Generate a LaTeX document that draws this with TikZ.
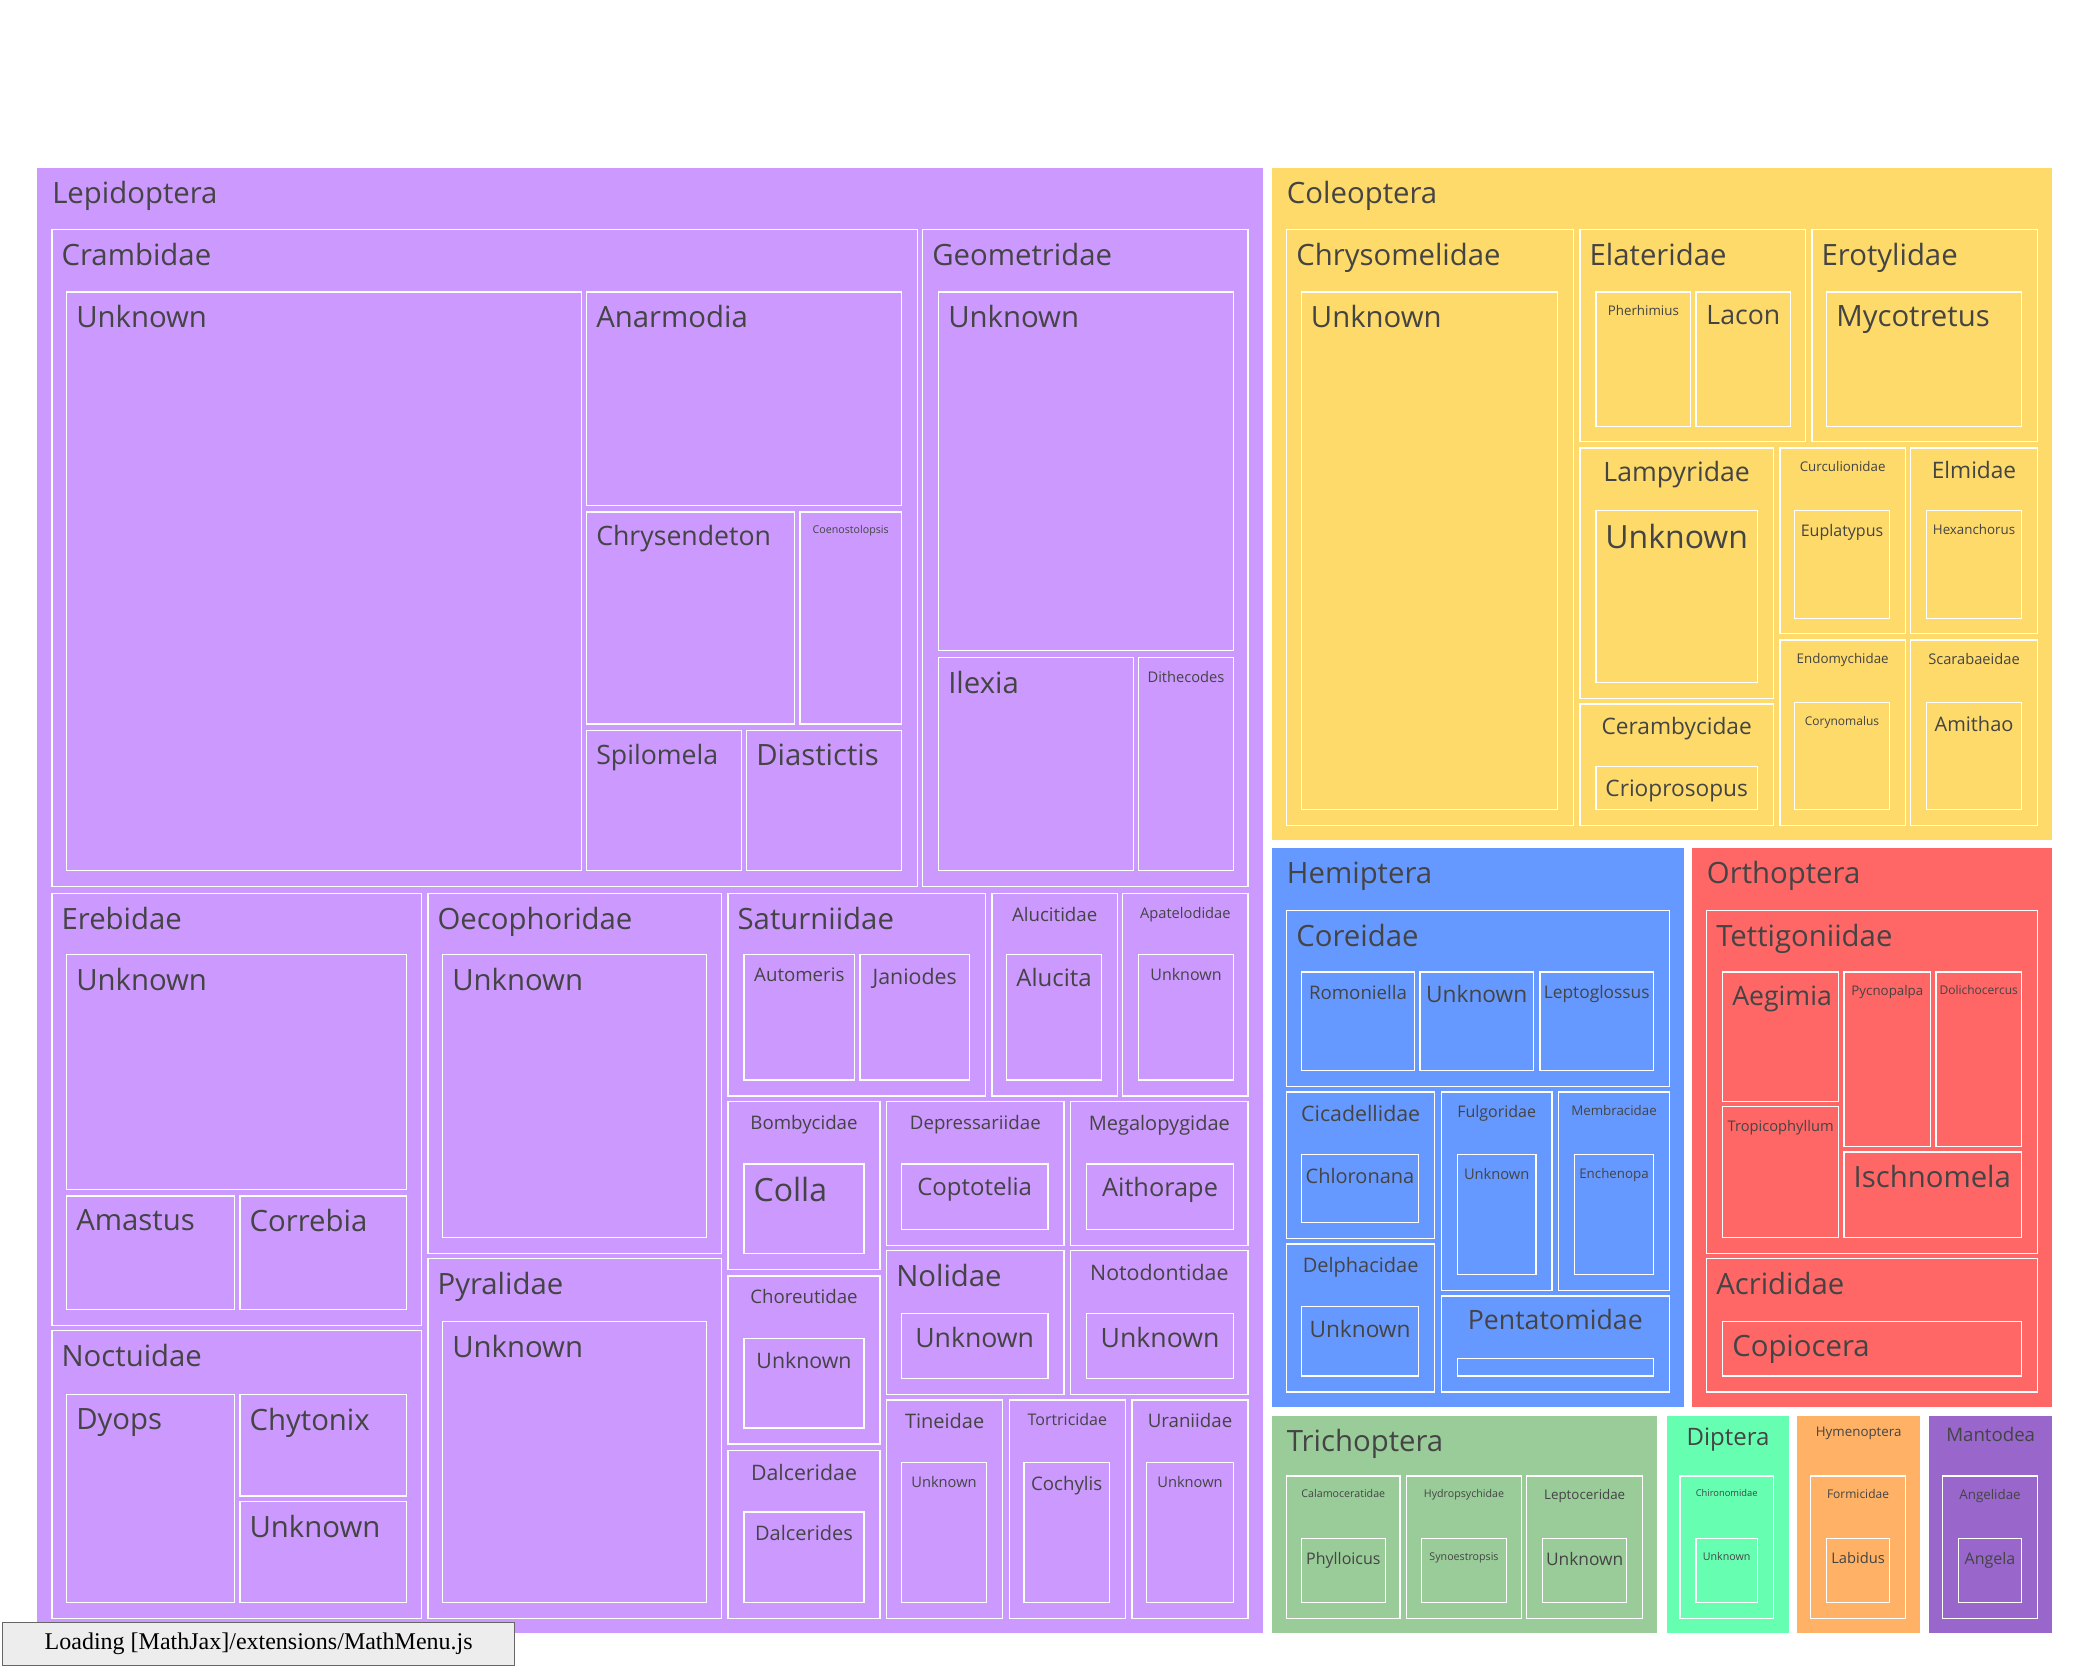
\documentclass[tikz,border=0pt]{standalone}
\usepackage{fontspec}
\setmainfont{Open Sans}
\definecolor{lepi}{HTML}{CC99FF}
\definecolor{cole}{HTML}{FDDA6A}
\definecolor{hemi}{HTML}{6699FF}
\definecolor{orth}{HTML}{FF6666}
\definecolor{tric}{HTML}{99CC99}
\definecolor{dipt}{HTML}{66FFB2}
\definecolor{hyme}{HTML}{FFB266}
\definecolor{mant}{HTML}{9966CC}
\definecolor{txt}{HTML}{444444}
\tikzset{
  tile/.style={draw=white, line width=1.2bp},
  lab/.style={text=txt, inner sep=0pt}
}
% left-aligned and centred tile labels
\newcommand{\tmL}[8]{%
  \draw[tile, fill=\curfill] (#2,#3) rectangle (#4,#5);
  \node[lab, anchor=north west, font=\fontsize{#6bp}{#6bp}\selectfont] (#1) at (#2+7,#3+10) {#8};}
\newcommand{\tmC}[8]{%
  \draw[tile, fill=\curfill] (#2,#3) rectangle (#4,#5);
  \node[lab, anchor=north, font=\fontsize{#6bp}{#6bp}\selectfont] (#1) at ({(#2+#4)/2},#3+10) {#8};}
\begin{document}
\begin{tikzpicture}[x=1bp, y=-1bp]
  \useasboundingbox[fill=white] (0,0) rectangle (1563,1250);

  % Lepidoptera
  \def\curfill{lepi}
  \fill[lepi] (28,126) rectangle (947,1225);
  \node[lab, anchor=north west, font=\fontsize{22bp}{22bp}\selectfont] (lepi) at (39,136) {Lepidoptera};
  \tmL{cram}{39}{172}{688}{665}{22}{}{Crambidae}
  \tmL{cramU}{50}{219}{436}{653}{22}{}{Unknown}
  \tmL{anar}{440}{219}{676}{379}{22}{}{Anarmodia}
  \tmL{chrys}{440}{384}{596}{543}{20}{}{Chrysendeton}
  \tmC{coen}{600}{384}{676}{543}{8}{}{Coenostolopsis}
  \tmL{spil}{440}{548}{556}{653}{20}{}{Spilomela}
  \tmL{dias}{560}{548}{676}{653}{22}{}{Diastictis}
  \tmL{geom}{692}{172}{936}{665}{22}{}{Geometridae}
  \tmL{geomU}{704}{219}{925}{488}{22}{}{Unknown}
  \tmL{ilex}{704}{493}{850}{653}{22}{}{Ilexia}
  \tmC{dith}{854}{493}{925}{653}{11}{}{Dithecodes}
  \tmL{ereb}{39}{670}{316}{994}{22}{}{Erebidae}
  \tmL{erebU}{50}{716}{305}{892}{22}{}{Unknown}
  \tmL{amas}{50}{897}{176}{982}{22}{}{Amastus}
  \tmL{corr}{180}{897}{305}{982}{22}{}{Correbia}
  \tmL{noct}{39}{998}{316}{1214}{22}{}{Noctuidae}
  \tmL{dyop}{50}{1046}{176}{1202}{22}{}{Dyops}
  \tmL{chyt}{180}{1046}{305}{1122}{22}{}{Chytonix}
  \tmL{noctU}{180}{1126}{305}{1202}{22}{}{Unknown}
  \tmL{oeco}{321}{670}{541}{940}{22}{}{Oecophoridae}
  \tmL{oecoU}{332}{716}{530}{928}{22}{}{Unknown}
  \tmL{pyra}{321}{944}{541}{1214}{22}{}{Pyralidae}
  \tmL{pyraU}{332}{991}{530}{1202}{22}{}{Unknown}
  \tmL{satu}{546}{670}{739}{822}{22}{}{Saturniidae}
  \tmC{auto}{558}{716}{641}{810}{14}{}{Automeris}
  \tmC{jani}{645}{716}{727}{810}{16}{}{Janiodes}
  \tmC{aluc}{744}{670}{838}{822}{14}{}{Alucitidae}
  \tmC{alucA}{755}{716}{826}{810}{18}{}{Alucita}
  \tmC{apat}{842}{670}{936}{822}{11}{}{Apatelodidae}
  \tmC{apatU}{854}{716}{925}{810}{12}{}{Unknown}
  \tmC{bomb}{546}{826}{660}{952}{14}{}{Bombycidae}
  \tmL{coll}{558}{873}{648}{940}{24}{}{Colla}
  \tmC{depr}{665}{826}{798}{934}{14}{}{Depressariidae}
  \tmC{copt}{676}{873}{786}{922}{18}{}{Coptotelia}
  \tmC{mega}{803}{826}{936}{934}{15}{}{Megalopygidae}
  \tmC{aith}{815}{873}{925}{922}{19}{}{Aithorape}
  \tmC{chor}{546}{957}{660}{1083}{14}{}{Choreutidae}
  \tmC{chorU}{558}{1004}{648}{1071}{16}{}{Unknown}
  \tmC{dalc}{546}{1088}{660}{1214}{16}{}{Dalceridae}
  \tmC{dalcD}{558}{1134}{648}{1202}{15}{}{Dalcerides}
  \tmL{noli}{665}{938}{798}{1046}{22}{}{Nolidae}
  \tmC{noliU}{676}{985}{786}{1034}{20}{}{Unknown}
  \tmC{noto}{803}{938}{936}{1046}{16}{}{Notodontidae}
  \tmC{notoU}{815}{985}{925}{1034}{20}{}{Unknown}
  \tmC{tine}{665}{1050}{752}{1214}{15}{}{Tineidae}
  \tmC{tineU}{676}{1097}{740}{1202}{11}{}{Unknown}
  \tmC{tort}{757}{1050}{844}{1214}{12}{}{Tortricidae}
  \tmC{coch}{768}{1097}{832}{1202}{14}{}{Cochylis}
  \tmC{uran}{849}{1050}{936}{1214}{14}{}{Uraniidae}
  \tmC{uranU}{860}{1097}{925}{1202}{11}{}{Unknown}

  % Coleoptera
  \def\curfill{cole}
  \fill[cole] (954,126) rectangle (1539,630);
  \node[lab, anchor=north west, font=\fontsize{22bp}{22bp}\selectfont] (cole) at (965,136) {Coleoptera};
  \tmL{chmel}{965}{172}{1180}{619}{22}{}{Chrysomelidae}
  \tmL{chmelU}{976}{219}{1168}{607}{22}{}{Unknown}
  \tmL{elat}{1185}{172}{1354}{331}{22}{}{Elateridae}
  \tmC{pher}{1197}{219}{1268}{320}{10}{}{Pherhimius}
  \tmC{laco}{1272}{219}{1343}{320}{20}{}{Lacon}
  \tmL{erot}{1359}{172}{1528}{331}{22}{}{Erotylidae}
  \tmL{myco}{1370}{219}{1516}{320}{22}{}{Mycotretus}
  \tmC{lamp}{1185}{336}{1330}{524}{20}{}{Lampyridae}
  \tmC{lampU}{1197}{383}{1318}{512}{24}{}{Unknown}
  \tmC{cera}{1185}{528}{1330}{619}{17}{}{Cerambycidae}
  \tmC{crio}{1197}{575}{1318}{607}{17}{}{Crioprosopus}
  \tmC{curc}{1335}{336}{1429}{475}{10}{}{Curculionidae}
  \tmC{eupl}{1346}{383}{1417}{464}{12}{}{Euplatypus}
  \tmC{elmi}{1433}{336}{1528}{475}{17}{}{Elmidae}
  \tmC{hexa}{1445}{383}{1516}{464}{10}{}{Hexanchorus}
  \tmC{endo}{1335}{480}{1429}{619}{10}{}{Endomychidae}
  \tmC{cory}{1346}{527}{1417}{607}{9}{}{Corynomalus}
  \tmC{scar}{1433}{480}{1528}{619}{11}{}{Scarabaeidae}
  \tmC{amit}{1445}{527}{1516}{607}{15}{}{Amithao}

  % Hemiptera
  \def\curfill{hemi}
  \fill[hemi] (954,636) rectangle (1263,1055);
  \node[lab, anchor=north west, font=\fontsize{22bp}{22bp}\selectfont] (hemi) at (965,646) {Hemiptera};
  \tmL{core}{965}{683}{1252}{815}{22}{}{Coreidae}
  \tmC{romo}{976}{729}{1061}{803}{14}{}{Romoniella}
  \tmC{coreU}{1065}{729}{1150}{803}{17}{}{Unknown}
  \tmC{lept}{1155}{729}{1240}{803}{13}{}{Leptoglossus}
  \tmC{cica}{965}{819}{1076}{929}{16}{}{Cicadellidae}
  \tmC{chlo}{976}{866}{1064}{917}{15}{}{Chloronana}
  \tmC{delp}{965}{933}{1076}{1044}{15}{}{Delphacidae}
  \tmC{delpU}{976}{980}{1064}{1032}{17}{}{Unknown}
  \tmC{fulg}{1081}{819}{1164}{968}{12}{}{Fulgoridae}
  \tmC{fulgU}{1093}{866}{1152}{956}{11}{}{Unknown}
  \tmC{memb}{1169}{819}{1252}{968}{10}{}{Membracidae}
  \tmC{ench}{1181}{866}{1240}{956}{10}{}{Enchenopa}
  \tmC{pent}{1081}{972}{1252}{1044}{20}{}{Pentatomidae}
  \draw[tile, fill=hemi] (1093,1019) rectangle (1240,1032);

  % Orthoptera
  \def\curfill{orth}
  \fill[orth] (1269,636) rectangle (1539,1055);
  \node[lab, anchor=north west, font=\fontsize{22bp}{22bp}\selectfont] (orth) at (1280,646) {Orthoptera};
  \tmL{tett}{1280}{683}{1528}{940}{22}{}{Tettigoniidae}
  \tmL{aegi}{1292}{729}{1379}{826}{20}{}{Aegimia}
  \tmC{trop}{1292}{830}{1379}{928}{11}{}{Tropicophyllum}
  \tmC{pycn}{1383}{729}{1448}{860}{10}{}{Pycnopalpa}
  \tmC{doli}{1452}{729}{1516}{860}{9}{}{Dolichocercus}
  \tmL{isch}{1383}{864}{1516}{928}{22}{}{Ischnomela}
  \tmL{acri}{1280}{944}{1528}{1044}{22}{}{Acrididae}
  \tmL{copi}{1292}{991}{1516}{1032}{22}{}{Copiocera}

  % Trichoptera
  \def\curfill{tric}
  \fill[tric] (954,1062) rectangle (1243,1225);
  \node[lab, anchor=north west, font=\fontsize{22bp}{22bp}\selectfont] (tric) at (965,1072) {Trichoptera};
  \tmC{cala}{965}{1107}{1050}{1214}{8}{}{Calamoceratidae}
  \tmC{phyl}{976}{1154}{1039}{1202}{12}{}{Phylloicus}
  \tmC{hydr}{1055}{1107}{1141}{1214}{8}{}{Hydropsychidae}
  \tmC{syno}{1066}{1154}{1130}{1202}{8}{}{Synoestropsis}
  \tmC{lepc}{1145}{1107}{1232}{1214}{10}{}{Leptoceridae}
  \tmC{lepcU}{1157}{1154}{1220}{1202}{13}{}{Unknown}

  % small orders
  \def\curfill{dipt}
  \fill[dipt] (1250,1062) rectangle (1342,1225);
  \node[lab, anchor=north, font=\fontsize{18bp}{18bp}\selectfont] (dipt) at (1296,1071) {Diptera};
  \tmC{chir}{1260}{1107}{1330}{1214}{7}{}{Chironomidae}
  \tmC{chirU}{1272}{1154}{1318}{1202}{8}{}{Unknown}
  \def\curfill{hyme}
  \fill[hyme] (1348,1062) rectangle (1440,1225);
  \node[lab, anchor=north, font=\fontsize{10bp}{10bp}\selectfont] (hyme) at (1394,1070) {Hymenoptera};
  \tmC{form}{1358}{1107}{1429}{1214}{9}{}{Formicidae}
  \tmC{labi}{1370}{1154}{1417}{1202}{11}{}{Labidus}
  \def\curfill{mant}
  \fill[mant] (1447,1062) rectangle (1539,1225);
  \node[lab, anchor=north, font=\fontsize{14bp}{14bp}\selectfont] (mant) at (1493,1070) {Mantodea};
  \tmC{ange}{1457}{1107}{1528}{1214}{10}{}{Angelidae}
  \tmC{angeA}{1469}{1154}{1516}{1202}{12}{}{Angela}

  % loading banner
  \node[draw=gray!80!black, fill=black!7, line width=1bp, minimum width=384bp,
        minimum height=32bp, inner sep=0pt, font=\fontsize{18bp}{18bp}\selectfont]
        (load) at (194,1233) {\fontspec{Liberation Serif}Loading [MathJax]/extensions/MathMenu.js};
\end{tikzpicture}
\end{document}
